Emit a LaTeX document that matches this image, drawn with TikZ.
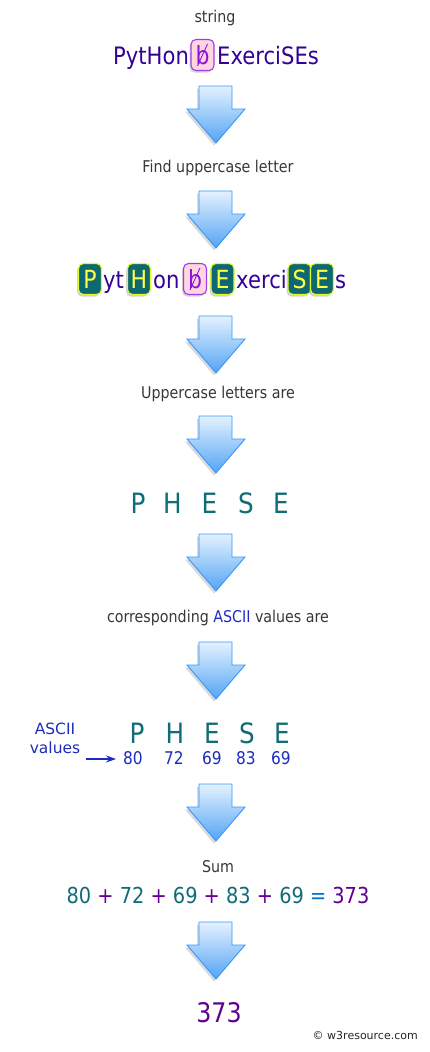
\documentclass[tikz,border=0pt]{standalone}
\usepackage{fontspec}
\setmainfont[FakeStretch=0.88]{DejaVu Sans}
\newfontfamily\widefont{DejaVu Sans}
\usetikzlibrary{shadows,arrows.meta}
\definecolor{graytxt}{RGB}{55,55,55}
\definecolor{indigo}{RGB}{51,0,153}
\definecolor{tealtxt}{RGB}{16,108,118}
\definecolor{boxfill}{RGB}{14,104,114}
\definecolor{boxedge}{RGB}{225,250,40}
\definecolor{boxtxt}{RGB}{255,255,70}
\definecolor{pinkfill}{RGB}{255,214,224}
\definecolor{pinkedge}{RGB}{160,60,240}
\definecolor{bviolet}{RGB}{140,20,220}
\definecolor{asciiblue}{RGB}{28,44,190}
\definecolor{plusviolet}{RGB}{100,0,150}
\definecolor{eqblue}{RGB}{0,120,200}
\definecolor{sumviolet}{RGB}{95,0,145}
\definecolor{arrtop}{RGB}{228,242,255}
\definecolor{arrbot}{RGB}{84,164,245}
\definecolor{arredge}{RGB}{55,150,250}
\tikzset{
  lbl/.style={text=graytxt,font=\fontsize{16.2}{19}\selectfont,inner sep=0pt,anchor=base},
  bigtxt/.style={text=indigo,font=\fontsize{24}{28}\selectfont,inner sep=0pt,anchor=base west},
  hbox/.style={draw=boxedge,line width=1.1pt,fill=boxfill,text=boxtxt,rounded corners=5pt,
    font=\fontsize{25}{28}\selectfont,minimum width=23pt,minimum height=31pt,inner sep=0pt,
    text height=18pt,text depth=0pt,anchor=base,
    drop shadow={shadow xshift=-1.5pt,shadow yshift=-2pt,opacity=0.35}},
  pbox/.style={hbox,draw=pinkedge,fill=pinkfill,text=bviolet,minimum width=23pt},
  phese/.style={text=tealtxt,font=\fontsize{28}{32}\selectfont,inner sep=0pt,anchor=base},
  num/.style={text=asciiblue,font=\fontsize{17.5}{20}\selectfont,inner sep=0pt,anchor=base},
  arrowshape/.style={draw=arredge,line width=0.9pt,top color=arrtop,bottom color=arrbot,
    line join=miter,
    drop shadow={shadow xshift=-2pt,shadow yshift=-2.5pt,opacity=0.3}},
}
\newcommand\bigdownarrow[1]{%
  \path[arrowshape] (199,#1) -- (232,#1) -- (232,#1+23) -- (245,#1+23) -- (216,#1+57)
    -- (187,#1+23) -- (199,#1+23) -- cycle;}
\begin{document}
\begin{tikzpicture}[x=1pt,y=-1pt]
\useasboundingbox (0,0) rectangle (429,1052);
% titles
\node[lbl] (t1) at (215,23) {string};
% row 1
\node[bigtxt] (r1a) at (113,64) {PytHon};
\node[pbox] (r1b) at (202.5,64) {b};
\draw[bviolet,line width=0.9pt] ([shift={(-5,11)}]r1b.center) -- ([shift={(5,-11)}]r1b.center);
\node[bigtxt] (r1c) at (217,64) {ExerciSEs};
\bigdownarrow{86}
\node[lbl] (t2) at (218,172) {Find uppercase letter};
\bigdownarrow{191}
% row 2
\node[hbox] (h1) at (90,288) {P};
\node[bigtxt] (h2) at (103,288) {yt};
\node[hbox] (h3) at (139,288) {H};
\node[bigtxt] (h4) at (153,288) {on};
\node[pbox] (h5) at (195,288) {b};
\draw[bviolet,line width=0.9pt] ([shift={(-5,11)}]h5.center) -- ([shift={(5,-11)}]h5.center);
\node[hbox] (h6) at (222.5,288) {E};
\node[bigtxt] (h7) at (236,288) {xerci};
\node[hbox] (h8) at (299.5,288) {S};
\node[hbox] (h9) at (322,288) {E};
\node[bigtxt] (h10) at (335,288) {s};
\bigdownarrow{316}
\node[lbl] (t3) at (218,398) {Uppercase letters are};
\bigdownarrow{416}
% PHESE
\node[phese] (l1) at (138,513) {P};
\node[phese] (l2) at (172.5,513) {H};
\node[phese] (l3) at (209.5,513) {E};
\node[phese] (l4) at (246,513) {S};
\node[phese] (l5) at (281,513) {E};
\bigdownarrow{534}
\node[lbl] (t4) at (218,622) {corresponding \textcolor{asciiblue}{ASCII} values are};
\bigdownarrow{642}
% PHESE with values
\node[phese] (m1) at (137,743) {P};
\node[phese] (m2) at (175,743) {H};
\node[phese] (m3) at (212,743) {E};
\node[phese] (m4) at (247,743) {S};
\node[phese] (m5) at (282,743) {E};
\node[num] (n1) at (133,764) {80};
\node[num] (n2) at (174,764) {72};
\node[num] (n3) at (212,764) {69};
\node[num] (n4) at (246,764) {83};
\node[num] (n5) at (281,764) {69};
\node[text=asciiblue,font=\widefont\fontsize{15.5}{19}\selectfont,inner sep=0pt,anchor=base,align=center] (al) at (55,753) {ASCII\\values};
\coordinate (as) at (86,759);
\coordinate (ae) at (116,759);
\draw[asciiblue,line width=1.3pt,-{Stealth[length=10pt,width=7pt]}] (as) -- (ae);
\bigdownarrow{784}
\node[lbl] (t5) at (218,872) {Sum};
\node[font=\fontsize{22}{26}\selectfont,inner sep=0pt,anchor=base] (eq) at (218,903)
  {\textcolor{tealtxt}{80} \textcolor{plusviolet}{+} \textcolor{tealtxt}{72} \textcolor{plusviolet}{+} \textcolor{tealtxt}{69} \textcolor{plusviolet}{+} \textcolor{tealtxt}{83} \textcolor{plusviolet}{+} \textcolor{tealtxt}{69} \textcolor{eqblue}{=} \textcolor{sumviolet}{373}};
\bigdownarrow{922}
\node[text=sumviolet,font=\fontsize{27}{30}\selectfont,inner sep=0pt,anchor=base] (res) at (219,1022) {373};
\node[text=black!85,font=\widefont\fontsize{11}{13}\selectfont,inner sep=0pt,anchor=base east] (cp) at (418,1039) {© w3resource.com};
\end{tikzpicture}
\end{document}
